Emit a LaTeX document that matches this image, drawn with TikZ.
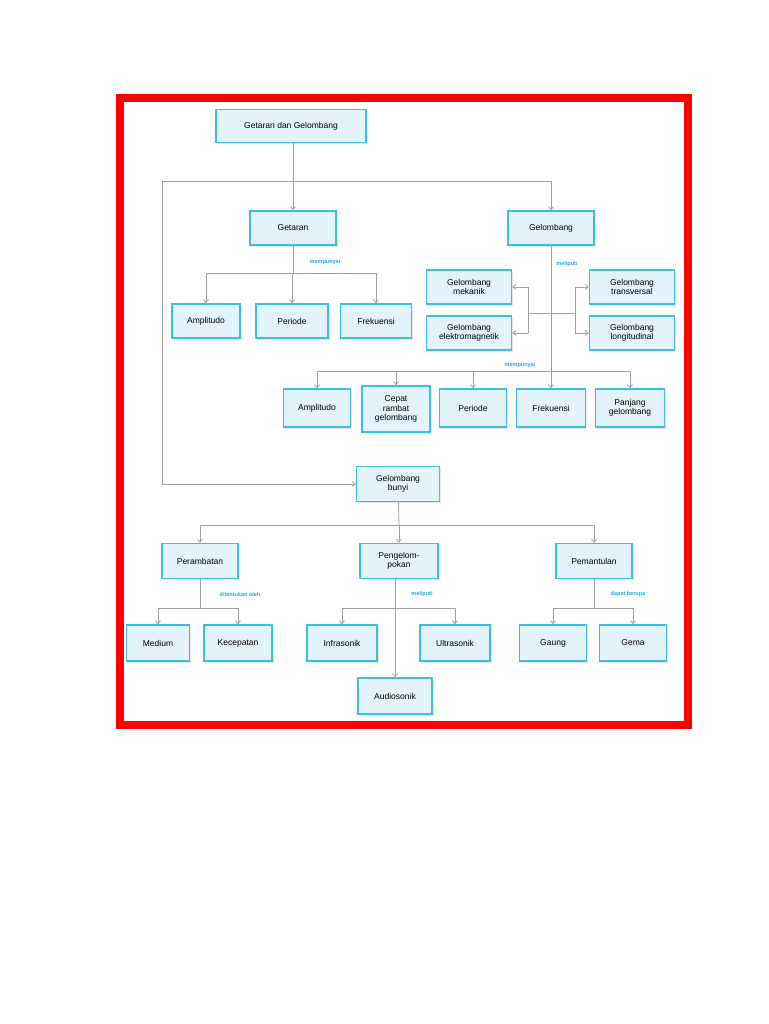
\documentclass[tikz,border=0pt]{standalone}
\usepackage{fontspec}
\setmainfont{Liberation Sans}
\usetikzlibrary{arrows.meta,shadows}
\definecolor{boxfill}{HTML}{E2F3FB}
\definecolor{boxline}{HTML}{3DBCE8}
\definecolor{lbl}{HTML}{22A6E0}
\definecolor{frame}{HTML}{FF0000}
\tikzset{
  bx/.style={draw=boxline,line width=1.6pt,fill=boxfill,minimum width=#1,minimum height=34pt,align=center,inner sep=1pt,
    font=\fontsize{8.5}{9.5}\selectfont,drop shadow={shadow xshift=1.5pt,shadow yshift=-1.5pt,fill=gray!40}},
  bx/.default=70pt,
  ln/.style={draw=gray!75,line width=0.8pt},
  ar/.style={ln,-{Straight Barb[length=3pt,width=5pt]}},
  lb/.style={text=lbl,font=\fontsize{5.5}{6}\selectfont\bfseries},
}
\begin{document}
\begin{tikzpicture}[x=1pt,y=-1pt]
\useasboundingbox (0,0) rectangle (768,1024);
\fill[white] (0,0) rectangle (768,1024);
\draw[frame,line width=8pt] (120,98) rectangle (688,725);
% nodes
\node[bx=150pt,minimum height=33pt] (gdg) at (291,126) {Getaran dan Gelombang};
\node[bx=86pt] (get) at (293,228) {Getaran};
\node[bx=86pt] (gel) at (551,228) {Gelombang};
\node[bx=68pt] (a1) at (206,321) {Amplitudo};
\node[bx=72pt] (p1) at (292,321) {Periode};
\node[bx=71pt] (f1) at (376,321) {Frekuensi};
\node[bx=85pt] (gm) at (469,287) {Gelombang\\mekanik};
\node[bx=85pt] (ge) at (469,333) {Gelombang\\elektromagnetik};
\node[bx=85pt] (gt) at (632,287) {Gelombang\\transversal};
\node[bx=85pt] (gl) at (632,333) {Gelombang\\longitudinal};
\node[bx=67pt,minimum height=38pt] (a2) at (317,408) {Amplitudo};
\node[bx=68pt,minimum height=46pt] (cr) at (396,409) {Cepat\\rambat\\gelombang};
\node[bx=67pt,minimum height=38pt] (p2) at (473,408) {Periode};
\node[bx=69pt,minimum height=38pt] (f2) at (551,408) {Frekuensi};
\node[bx=69pt,minimum height=38pt] (pg) at (630,408) {Panjang\\gelombang};
\node[bx=83pt,minimum height=35pt] (gb) at (398,484) {Gelombang\\bunyi};
\node[bx=76pt,minimum height=35pt] (per) at (200,561) {Perambatan};
\node[bx=78pt,minimum height=35pt] (pen) at (399,561) {Pengelom-\\pokan};
\node[bx=76pt,minimum height=35pt] (pem) at (594,561) {Pemantulan};
\node[bx=63pt,minimum height=36pt] (med) at (158,643) {Medium};
\node[bx=68pt,minimum height=36pt] (kec) at (238,643) {Kecepatan};
\node[bx=70pt,minimum height=36pt] (inf) at (342,643) {Infrasonik};
\node[bx=70pt,minimum height=36pt] (ult) at (455,643) {Ultrasonik};
\node[bx=67pt,minimum height=36pt] (gau) at (553,643) {Gaung};
\node[bx=67pt,minimum height=36pt] (gem) at (633,643) {Gema};
\node[bx=74pt,minimum height=36pt] (aud) at (395,696) {Audiosonik};
% coordinates
\coordinate (c1) at (162,181);
\coordinate (c2) at (551,181);
\coordinate (c3) at (162,484);
% top
\draw[ar] (gdg.south -| get.north) -- (get);
\draw[ln] (c1) -- (c2);
\draw[ar] (c2) -- (gel);
\draw[ar] (c1) -- (c3) -- (gb);
% getaran
\coordinate (g1) at (293,273);
\draw[ln] (get) -- (g1);
\draw[ln] (a1 |- g1) -- (f1 |- g1);
\foreach \n in {a1,p1,f1} \draw[ar] (\n |- g1) -- (\n);
\node[lb] (l1) at (325,262) {mempunyai};
% gelombang
\draw[ar] (gel) -- (f2);
\node[lb] (l2) at (567,264) {meliputi};
\coordinate (hL) at (528,313);
\coordinate (hR) at (575,313);
\draw[ln] (hL) -- (hR);
\draw[ln] (528,287) -- (528,333);
\draw[ln] (575,287) -- (575,333);
\draw[ar] (528,287) -- (gm);
\draw[ar] (528,333) -- (ge);
\draw[ar] (575,287) -- (gt);
\draw[ar] (575,333) -- (gl);
\coordinate (m1) at (317,371);
\draw[ln] (a2 |- m1) -- (pg |- m1);
\foreach \n in {a2,cr,p2,pg} \draw[ar] (\n |- m1) -- (\n);
\node[lb] (l3) at (520,365) {mempunyai};
% bunyi
\coordinate (b1) at (399,525);
\draw[ln] (gb) -- (b1);
\draw[ln] (per |- b1) -- (pem |- b1);
\foreach \n in {per,pen,pem} \draw[ar] (\n |- b1) -- (\n);
\coordinate (r1) at (200,608);
\draw[ln] (per) -- (r1);
\draw[ln] (med |- r1) -- (kec |- r1);
\foreach \n in {med,kec} \draw[ar] (\n |- r1) -- (\n);
\node[lb] (l4) at (240,595) {ditentukan oleh};
\coordinate (r2) at (399,608);
\draw[ar] (pen.south -| aud.north) -- (aud);
\draw[ln] (inf |- r2) -- (ult |- r2);
\foreach \n in {inf,ult} \draw[ar] (\n |- r2) -- (\n);
\node[lb] (l5) at (422,594) {meliputi};
\coordinate (r3) at (594,608);
\draw[ln] (pem) -- (r3);
\draw[ln] (gau |- r3) -- (gem |- r3);
\foreach \n in {gau,gem} \draw[ar] (\n |- r3) -- (\n);
\node[lb] (l6) at (628,594) {dapat berupa};
\end{tikzpicture}
\end{document}
